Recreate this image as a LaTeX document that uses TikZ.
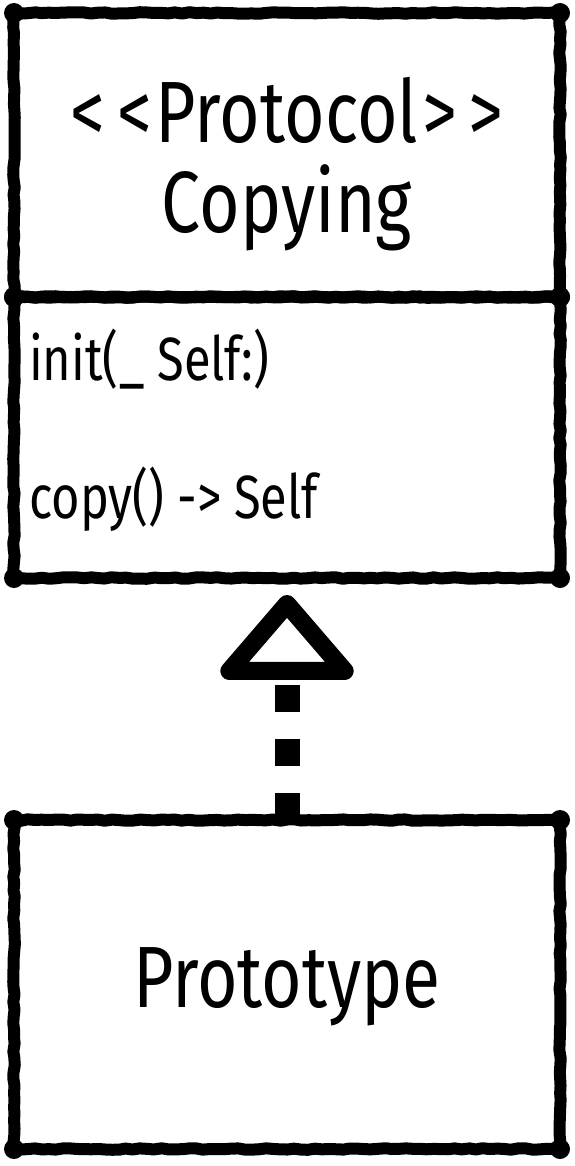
\documentclass[tikz,border=0pt]{standalone}
\usepackage{fontspec}
\setmainfont{Fira Sans}[FakeStretch=0.8]
\usetikzlibrary{arrows.meta,decorations.pathmorphing}

\tikzset{
  sketchy/.style={line width=12pt, line join=round,
    decorate, decoration={random steps, segment length=7pt, amplitude=0.8pt}},
  umlbox/.style={draw, sketchy, rectangle, inner sep=0pt, outer sep=0pt},
  titletext/.style={font=\fontsize{87}{90}\selectfont, inner sep=0pt},
  methodtext/.style={font=\fontsize{61}{64}\selectfont, inner sep=0pt},
  realize/.style={line width=25pt, dash pattern=on 27pt off 27pt,
    -{Triangle[open, round, length=90pt, width=150pt, line width=18pt]}}
}

\begin{document}
\begin{tikzpicture}[x=1pt, y=-1pt]
    \useasboundingbox (0,0) rectangle (574,1166);
    % Boxes:
    \node[umlbox, minimum width=546pt, minimum height=284pt] (head) at (287,155) {};
    \node[umlbox, minimum width=546pt, minimum height=281pt] (body) at (287,437.5) {};
    \node[umlbox, minimum width=546pt, minimum height=329pt] (impl) at (287,984.5) {};
    \foreach \b in {head, body, impl}
        \foreach \c in {north west, north east, south west, south east}
            \fill (\b.\c) circle (10pt);
    % Texts:
    \node[titletext, anchor=base] (stereo) at (287,143)
        {<\hspace{12pt}<\hspace{4pt}Protocol\hspace{4pt}>\hspace{12pt}>};
    \node[titletext, anchor=base] (name) at (287,233) {Copying};
    \node[methodtext, anchor=base west] (init) at (29,380) {init(\_ Self:)};
    \node[methodtext, anchor=base west] (copy) at (29,518) {copy() -> Self};
    \node[titletext, anchor=base] (proto) at (287,1007) {Prototype};
    % Realization:
    \draw[realize] (impl.north) -- ([yshift=-17pt]body.south);
\end{tikzpicture}
\end{document}
